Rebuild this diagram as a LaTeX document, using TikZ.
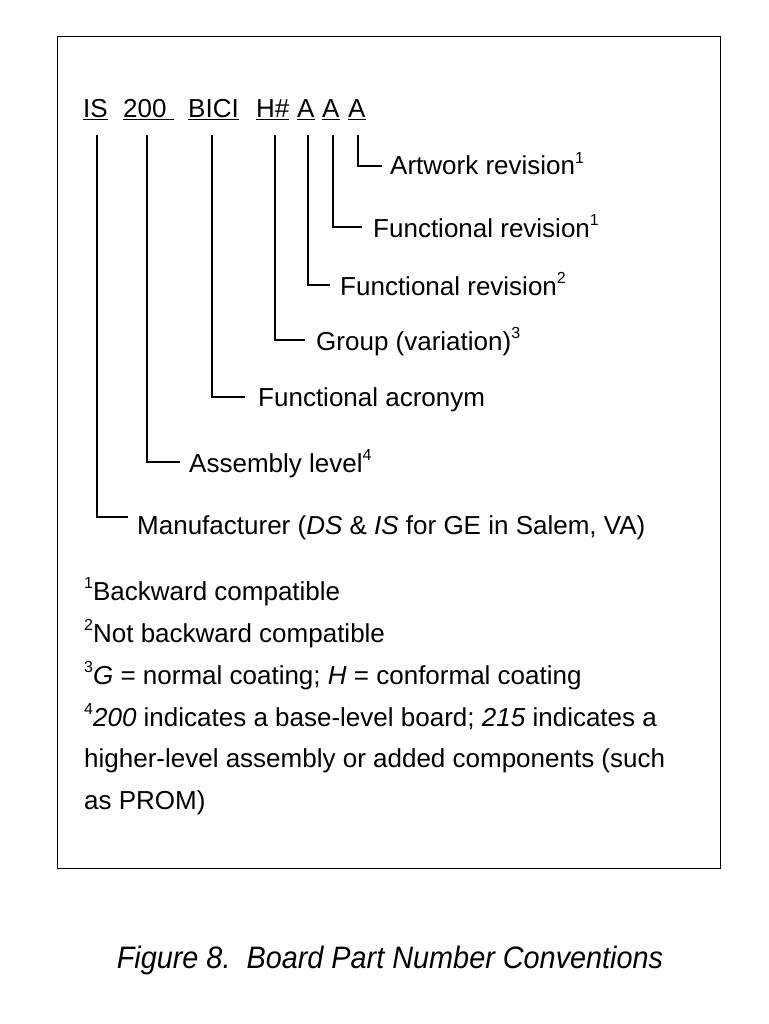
\documentclass[tikz,border=0pt]{standalone}
\usepackage{fontspec}
\setmainfont{Liberation Sans}
\newcommand{\sps}[1]{\raisebox{0.45em}{\fontsize{16}{16}\selectfont #1}}
\begin{document}
\begin{tikzpicture}[x=1pt,y=-1pt,
  txt/.style={anchor=base west,inner sep=0pt,font=\fontsize{26}{30}\selectfont},
  ln/.style={line width=1.3pt}]
\useasboundingbox (0,0) rectangle (768,1024);
\draw[line width=1pt] (57,37) rectangle (720,868);
% part number
\node[txt] (is) at (83,118) {\underline{IS}};
\node[txt] (n200) at (123,118) {\underline{200\ }};
\node[txt] (bici) at (188,118) {\underline{BICI}};
\node[txt] (h) at (256,118) {\underline{H\#}};
\node[txt] (a1) at (297,118) {\underline{A}};
\node[txt] (a2) at (322,118) {\underline{A}};
\node[txt] (a3) at (348,118) {\underline{A}};
% labels
\node[txt] (l7) at (390,175) {Artwork revision\sps{1}};
\node[txt] (l6) at (373,237) {Functional revision\sps{1}};
\node[txt] (l5) at (340,295) {Functional revision\sps{2}};
\node[txt] (l4) at (316,350) {Group (variation)\sps{3}};
\node[txt] (l3) at (258,406) {Functional acronym};
\node[txt] (l2) at (189,472) {Assembly level\sps{4}};
\node[txt] (l1) at (137,534) {Manufacturer (\textit{DS} \& \textit{IS} for GE in Salem, VA)};
% connectors
\draw[ln] (97,135) |- (128,517) coordinate (e1);
\draw[ln] (147,135) |- (180,462) coordinate (e2);
\draw[ln] (212,135) |- (245,397) coordinate (e3);
\draw[ln] (275,135) |- (305,340) coordinate (e4);
\draw[ln] (308,135) |- (330,285) coordinate (e5);
\draw[ln] (333,135) |- (362,227) coordinate (e6);
\draw[ln] (358,135) |- (382,166) coordinate (e7);
% footnotes
\node[txt] (f1) at (84,600) {\sps{1}Backward compatible};
\node[txt] (f2) at (84,642) {\sps{2}Not backward compatible};
\node[txt] (f3) at (84,684) {\sps{3}\textit{G} = normal coating;\ \textit{H} = conformal coating};
\node[txt] (f4) at (84,726) {\sps{4}\textit{200} indicates a base-level board;\ \textit{215} indicates a};
\node[txt] (f5) at (84,767) {higher-level assembly or added components (such};
\node[txt] (f6) at (84,809) {as PROM)};
% caption
\node[anchor=base,inner sep=0pt,font=\fontsize{31}{34}\selectfont\itshape,xscale=0.93] (cap) at (390,968) {Figure 8.\ \ Board Part Number Conventions};
\end{tikzpicture}
\end{document}
